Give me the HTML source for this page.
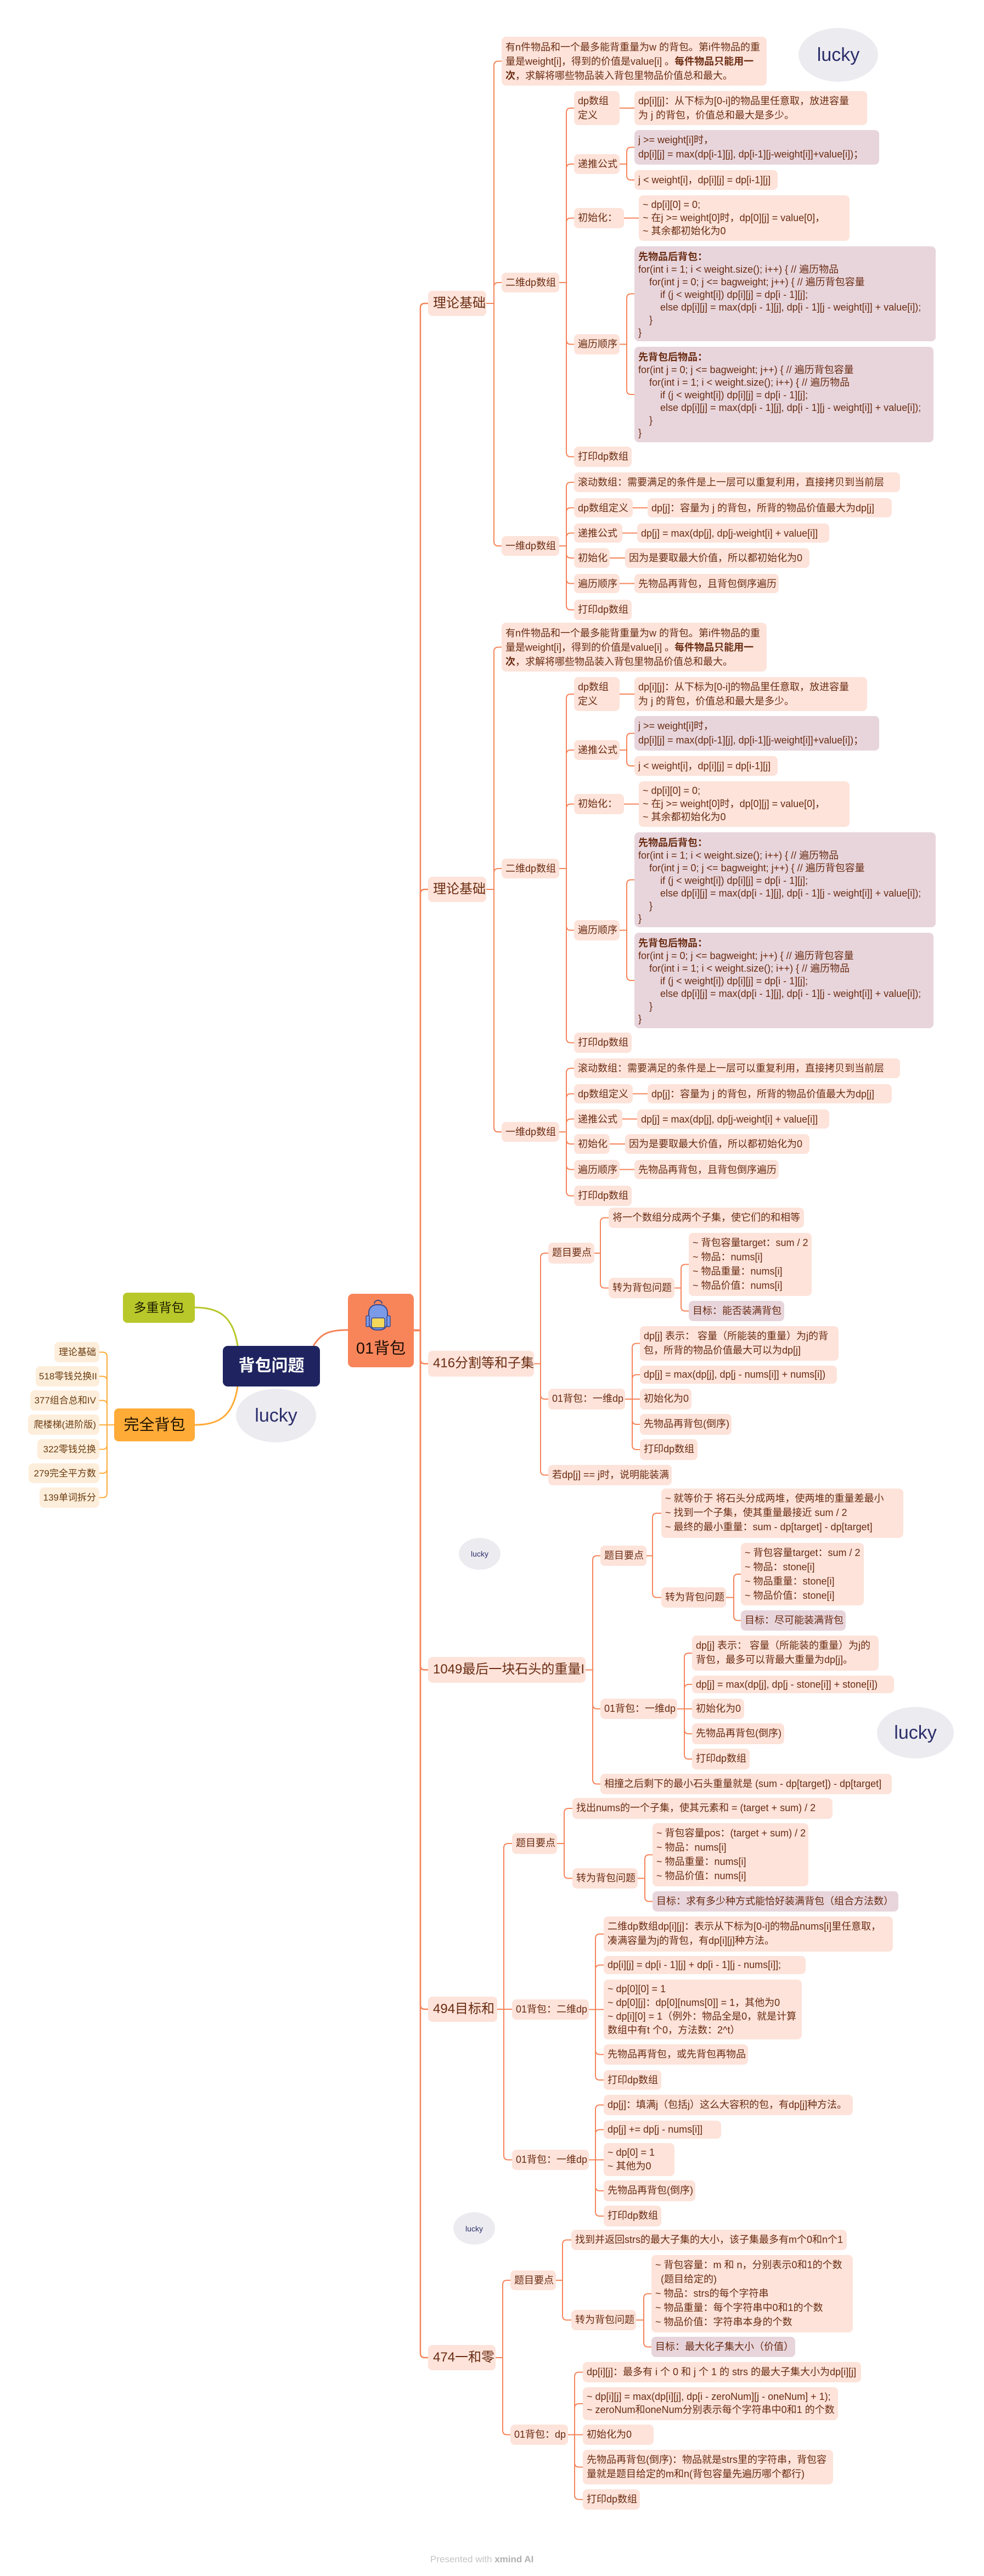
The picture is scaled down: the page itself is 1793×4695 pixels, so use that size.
<!DOCTYPE html>
<html><head><meta charset="utf-8">
<style>
html,body{margin:0;padding:0;background:#fff;}
body{width:1793px;height:4695px;position:relative;overflow:hidden;font-family:"Liberation Sans","Noto Sans CJK SC",sans-serif;}
.n{position:absolute;background:#fde3da;border-radius:8px;padding:5px 7px;box-sizing:border-box;font-size:18px;line-height:26px;color:#6a2c12;white-space:nowrap;overflow:hidden;}
.p{background:#e8d5dc;}
.big{font-size:24px;line-height:34px;padding:6px 9px;}
.code{line-height:23px;padding-top:8px;}
.sec{position:absolute;left:0;top:0;width:1793px;}
.lk{position:absolute;background:#ecebf0;border-radius:50%;color:#2b2e6a;display:flex;align-items:center;justify-content:center;}
.l{position:absolute;background:#fdeedb;border-radius:8px;font-size:17px;line-height:27px;padding:5px 6px;box-sizing:border-box;color:#6a3c10;white-space:nowrap;text-align:right;}
svg{position:absolute;left:0;top:0;}
</style></head><body>
<svg id="cv" width="1793" height="4695"></svg>

<!-- left side -->
<div style="position:absolute;left:224px;top:2356px;width:131px;height:55px;background:#b8c82a;border-radius:8px;font-size:23px;line-height:55px;text-align:center;color:#1d1d00;">多重背包</div>
<div style="position:absolute;left:208px;top:2567px;width:147px;height:60px;background:#ffab38;border-radius:8px;font-size:28px;line-height:60px;text-align:center;color:#1d1200;">完全背包</div>
<div style="position:absolute;left:406px;top:2453px;width:177px;height:74px;background:#1f2460;border-radius:9px;font-size:30px;font-weight:bold;line-height:74px;text-align:center;color:#fff;">背包问题</div>
<div id="k01" style="position:absolute;left:634px;top:2358px;width:120px;height:134px;background:#f8855a;border-radius:9px;">
<svg width="120" height="134" style="position:absolute;left:0;top:0">
<rect x="38" y="20" width="34" height="46" rx="14" fill="#7b9ae8" stroke="#3a4a8a" stroke-width="2"/>
<rect x="33" y="40" width="6" height="20" rx="2" fill="#7b9ae8" stroke="#3a4a8a" stroke-width="1.5"/>
<rect x="71" y="40" width="6" height="20" rx="2" fill="#7b9ae8" stroke="#3a4a8a" stroke-width="1.5"/>
<rect x="43" y="44" width="24" height="18" rx="3" fill="#f5d75a" stroke="#3a4a8a" stroke-width="1.5"/>
<path d="M48 18 a7 6 0 0 1 14 0" fill="none" stroke="#3a4a8a" stroke-width="2"/>
</svg>
<div style="position:absolute;left:0;top:80px;width:120px;text-align:center;font-size:29px;line-height:40px;color:#1a0d05;">01背包</div>
</div>
<div class="lk" style="left:430px;top:2531px;width:146px;height:98px;font-size:34px;">lucky</div>

<div class="l" id="L1" style="left:99px;top:2446px;width:82px;height:37px;">理论基础</div>
<div class="l" id="L2" style="left:65px;top:2490px;width:116px;height:37px;">518零钱兑换II</div>
<div class="l" id="L3" style="left:55px;top:2534px;width:126px;height:37px;">377组合总和IV</div>
<div class="l" id="L4" style="left:51px;top:2578px;width:130px;height:37px;">爬楼梯(进阶版)</div>
<div class="l" id="L5" style="left:68px;top:2623px;width:113px;height:37px;">322零钱兑换</div>
<div class="l" id="L6" style="left:52px;top:2667px;width:129px;height:36px;">279完全平方数</div>
<div class="l" id="L7" style="left:72px;top:2711px;width:109px;height:37px;">139单词拆分</div>

<div class="lk" style="left:1455px;top:51px;width:145px;height:98px;font-size:34px;">lucky</div>
<div class="lk" style="left:836px;top:2803px;width:76px;height:58px;font-size:14px;">lucky</div>
<div class="lk" style="left:1598px;top:3111px;width:140px;height:94px;font-size:34px;">lucky</div>
<div class="lk" style="left:826px;top:4032px;width:76px;height:59px;font-size:14px;">lucky</div>

<!-- Section 1 -->
<div class="sec" style="top:0">
<div class="n big" id="at" style="left:780px;top:530px;width:106px;height:46px;">理论基础</div>
<div class="n" id="ad" style="left:914px;top:67px;width:483px;height:89px;padding-top:6px;">有n件物品和一个最多能背重量为w 的背包。第i件物品的重<br>量是weight[i]，得到的价值是value[i] 。<b>每件物品只能用一</b><br><b>次</b>，求解将哪些物品装入背包里物品价值总和最大。</div>
<div class="n" id="ae" style="left:914px;top:497px;width:105px;height:36px;">二维dp数组</div>
<div class="n" id="ao" style="left:914px;top:977px;width:105px;height:36px;">一维dp数组</div>
<div class="n" id="ae1" style="left:1046px;top:166px;width:83px;height:62px;">dp数组<br>定义</div>
<div class="n" id="ae1c" style="left:1156px;top:166px;width:424px;height:62px;">dp[i][j]：从下标为[0-i]的物品里任意取，放进容量<br>为 j 的背包，价值总和最大是多少。</div>
<div class="n" id="ae2" style="left:1046px;top:281px;width:83px;height:36px;">递推公式</div>
<div class="n p" id="ae2a" style="left:1156px;top:237px;width:446px;height:63px;">j &gt;= weight[i]时，<br>dp[i][j] = max(dp[i-1][j], dp[i-1][j-weight[i]]+value[i])；</div>
<div class="n" id="ae2b" style="left:1156px;top:310px;width:261px;height:36px;">j &lt; weight[i]，dp[i][j] = dp[i-1][j]</div>
<div class="n" id="ae3" style="left:1046px;top:379px;width:91px;height:37px;">初始化：</div>
<div class="n" id="ae3c" style="left:1164px;top:356px;width:384px;height:83px;line-height:24px;">~ dp[i][0] = 0;<br>~ 在j &gt;= weight[0]时，dp[0][j] = value[0]，<br>~ 其余都初始化为0</div>
<div class="n" id="ae4" style="left:1046px;top:609px;width:83px;height:37px;">遍历顺序</div>
<div class="n p code" id="ae4a" style="left:1156px;top:449px;width:549px;height:173px;"><b>先物品后背包：</b><br>for(int i = 1; i &lt; weight.size(); i++) { // 遍历物品<br>&nbsp;&nbsp;&nbsp;&nbsp;for(int j = 0; j &lt;= bagweight; j++) { // 遍历背包容量<br>&nbsp;&nbsp;&nbsp;&nbsp;&nbsp;&nbsp;&nbsp;&nbsp;if (j &lt; weight[i]) dp[i][j] = dp[i - 1][j];<br>&nbsp;&nbsp;&nbsp;&nbsp;&nbsp;&nbsp;&nbsp;&nbsp;else dp[i][j] = max(dp[i - 1][j], dp[i - 1][j - weight[i]] + value[i]);<br>&nbsp;&nbsp;&nbsp;&nbsp;}<br>}</div>
<div class="n p code" id="ae4b" style="left:1156px;top:632px;width:545px;height:174px;"><b>先背包后物品：</b><br>for(int j = 0; j &lt;= bagweight; j++) { // 遍历背包容量<br>&nbsp;&nbsp;&nbsp;&nbsp;for(int i = 1; i &lt; weight.size(); i++) { // 遍历物品<br>&nbsp;&nbsp;&nbsp;&nbsp;&nbsp;&nbsp;&nbsp;&nbsp;if (j &lt; weight[i]) dp[i][j] = dp[i - 1][j];<br>&nbsp;&nbsp;&nbsp;&nbsp;&nbsp;&nbsp;&nbsp;&nbsp;else dp[i][j] = max(dp[i - 1][j], dp[i - 1][j - weight[i]] + value[i]);<br>&nbsp;&nbsp;&nbsp;&nbsp;}<br>}</div>
<div class="n" id="ae5" style="left:1046px;top:814px;width:105px;height:37px;">打印dp数组</div>
<div class="n" id="ao1" style="left:1046px;top:861px;width:594px;height:36px;">滚动数组：需要满足的条件是上一层可以重复利用，直接拷贝到当前层</div>
<div class="n" id="ao2" style="left:1046px;top:908px;width:107px;height:35px;">dp数组定义</div>
<div class="n" id="ao2c" style="left:1180px;top:908px;width:445px;height:35px;">dp[j]：容量为 j 的背包，所背的物品价值最大为dp[j]</div>
<div class="n" id="ao3" style="left:1046px;top:954px;width:88px;height:35px;">递推公式</div>
<div class="n" id="ao3c" style="left:1161px;top:954px;width:350px;height:35px;">dp[j] = max(dp[j], dp[j-weight[i] + value[i]]</div>
<div class="n" id="ao4" style="left:1046px;top:999px;width:65px;height:36px;">初始化</div>
<div class="n" id="ao4c" style="left:1139px;top:999px;width:336px;height:36px;">因为是要取最大价值，所以都初始化为0</div>
<div class="n" id="ao5" style="left:1046px;top:1046px;width:83px;height:35px;">遍历顺序</div>
<div class="n" id="ao5c" style="left:1156px;top:1046px;width:263px;height:35px;">先物品再背包，且背包倒序遍历</div>
<div class="n" id="ao6" style="left:1046px;top:1093px;width:105px;height:37px;">打印dp数组</div>
</div>

<!-- Section 2 -->
<div class="sec" style="top:1068px">
<div class="n big" id="bt" style="left:780px;top:530px;width:106px;height:46px;">理论基础</div>
<div class="n" id="bd" style="left:914px;top:67px;width:483px;height:89px;padding-top:6px;">有n件物品和一个最多能背重量为w 的背包。第i件物品的重<br>量是weight[i]，得到的价值是value[i] 。<b>每件物品只能用一</b><br><b>次</b>，求解将哪些物品装入背包里物品价值总和最大。</div>
<div class="n" id="be" style="left:914px;top:497px;width:105px;height:36px;">二维dp数组</div>
<div class="n" id="bo" style="left:914px;top:977px;width:105px;height:36px;">一维dp数组</div>
<div class="n" id="be1" style="left:1046px;top:166px;width:83px;height:62px;">dp数组<br>定义</div>
<div class="n" id="be1c" style="left:1156px;top:166px;width:424px;height:62px;">dp[i][j]：从下标为[0-i]的物品里任意取，放进容量<br>为 j 的背包，价值总和最大是多少。</div>
<div class="n" id="be2" style="left:1046px;top:281px;width:83px;height:36px;">递推公式</div>
<div class="n p" id="be2a" style="left:1156px;top:237px;width:446px;height:63px;">j &gt;= weight[i]时，<br>dp[i][j] = max(dp[i-1][j], dp[i-1][j-weight[i]]+value[i])；</div>
<div class="n" id="be2b" style="left:1156px;top:310px;width:261px;height:36px;">j &lt; weight[i]，dp[i][j] = dp[i-1][j]</div>
<div class="n" id="be3" style="left:1046px;top:379px;width:91px;height:37px;">初始化：</div>
<div class="n" id="be3c" style="left:1164px;top:356px;width:384px;height:83px;line-height:24px;">~ dp[i][0] = 0;<br>~ 在j &gt;= weight[0]时，dp[0][j] = value[0]，<br>~ 其余都初始化为0</div>
<div class="n" id="be4" style="left:1046px;top:609px;width:83px;height:37px;">遍历顺序</div>
<div class="n p code" id="be4a" style="left:1156px;top:449px;width:549px;height:173px;"><b>先物品后背包：</b><br>for(int i = 1; i &lt; weight.size(); i++) { // 遍历物品<br>&nbsp;&nbsp;&nbsp;&nbsp;for(int j = 0; j &lt;= bagweight; j++) { // 遍历背包容量<br>&nbsp;&nbsp;&nbsp;&nbsp;&nbsp;&nbsp;&nbsp;&nbsp;if (j &lt; weight[i]) dp[i][j] = dp[i - 1][j];<br>&nbsp;&nbsp;&nbsp;&nbsp;&nbsp;&nbsp;&nbsp;&nbsp;else dp[i][j] = max(dp[i - 1][j], dp[i - 1][j - weight[i]] + value[i]);<br>&nbsp;&nbsp;&nbsp;&nbsp;}<br>}</div>
<div class="n p code" id="be4b" style="left:1156px;top:632px;width:545px;height:174px;"><b>先背包后物品：</b><br>for(int j = 0; j &lt;= bagweight; j++) { // 遍历背包容量<br>&nbsp;&nbsp;&nbsp;&nbsp;for(int i = 1; i &lt; weight.size(); i++) { // 遍历物品<br>&nbsp;&nbsp;&nbsp;&nbsp;&nbsp;&nbsp;&nbsp;&nbsp;if (j &lt; weight[i]) dp[i][j] = dp[i - 1][j];<br>&nbsp;&nbsp;&nbsp;&nbsp;&nbsp;&nbsp;&nbsp;&nbsp;else dp[i][j] = max(dp[i - 1][j], dp[i - 1][j - weight[i]] + value[i]);<br>&nbsp;&nbsp;&nbsp;&nbsp;}<br>}</div>
<div class="n" id="be5" style="left:1046px;top:814px;width:105px;height:37px;">打印dp数组</div>
<div class="n" id="bo1" style="left:1046px;top:861px;width:594px;height:36px;">滚动数组：需要满足的条件是上一层可以重复利用，直接拷贝到当前层</div>
<div class="n" id="bo2" style="left:1046px;top:908px;width:107px;height:35px;">dp数组定义</div>
<div class="n" id="bo2c" style="left:1180px;top:908px;width:445px;height:35px;">dp[j]：容量为 j 的背包，所背的物品价值最大为dp[j]</div>
<div class="n" id="bo3" style="left:1046px;top:954px;width:88px;height:35px;">递推公式</div>
<div class="n" id="bo3c" style="left:1161px;top:954px;width:350px;height:35px;">dp[j] = max(dp[j], dp[j-weight[i] + value[i]]</div>
<div class="n" id="bo4" style="left:1046px;top:999px;width:65px;height:36px;">初始化</div>
<div class="n" id="bo4c" style="left:1139px;top:999px;width:336px;height:36px;">因为是要取最大价值，所以都初始化为0</div>
<div class="n" id="bo5" style="left:1046px;top:1046px;width:83px;height:35px;">遍历顺序</div>
<div class="n" id="bo5c" style="left:1156px;top:1046px;width:263px;height:35px;">先物品再背包，且背包倒序遍历</div>
<div class="n" id="bo6" style="left:1046px;top:1093px;width:105px;height:37px;">打印dp数组</div>
</div>

<!-- 416 -->
<div class="n big" id="c" style="left:780px;top:2462px;width:193px;height:47px;">416分割等和子集</div>
<div class="n" id="c1" style="left:999px;top:2265px;width:84px;height:38px;">题目要点</div>
<div class="n" id="c1a" style="left:1109px;top:2201px;width:356px;height:37px;">将一个数组分成两个子集，使它们的和相等</div>
<div class="n" id="c1b" style="left:1109px;top:2329px;width:120px;height:37px;">转为背包问题</div>
<div class="n" id="c1b1" style="left:1255px;top:2247px;width:224px;height:115px;line-height:26px;">~ 背包容量target：sum / 2<br>~ 物品：nums[i]<br>~ 物品重量：nums[i]<br>~ 物品价值：nums[i]</div>
<div class="n p" id="c1b2" style="left:1255px;top:2371px;width:174px;height:37px;">目标：能否装满背包</div>
<div class="n" id="c2" style="left:999px;top:2531px;width:140px;height:38px;">01背包：一维dp</div>
<div class="n" id="c2a" style="left:1166px;top:2417px;width:362px;height:63px;">dp[j] 表示： 容量（所能装的重量）为j的背<br>包，所背的物品价值最大可以为dp[j]</div>
<div class="n" id="c2b" style="left:1166px;top:2489px;width:359px;height:33px;line-height:23px;">dp[j] = max(dp[j], dp[j - nums[i]] + nums[i])</div>
<div class="n" id="c2c" style="left:1166px;top:2531px;width:94px;height:38px;">初始化为0</div>
<div class="n" id="c2d" style="left:1166px;top:2577px;width:167px;height:38px;">先物品再背包(倒序)</div>
<div class="n" id="c2e" style="left:1166px;top:2623px;width:105px;height:38px;">打印dp数组</div>
<div class="n" id="c3" style="left:999px;top:2670px;width:225px;height:37px;">若dp[j] == j时，说明能装满</div>

<!-- 1049 -->
<div class="n big" id="d" style="left:780px;top:3020px;width:287px;height:47px;">1049最后一块石头的重量II</div>
<div class="n" id="d1" style="left:1094px;top:2817px;width:84px;height:37px;">题目要点</div>
<div class="n" id="d1a" style="left:1205px;top:2713px;width:441px;height:90px;line-height:26px;">~ 就等价于 将石头分成两堆，使两堆的重量差最小<br>~ 找到一个子集，使其重量最接近 sum / 2<br>~ 最终的最小重量：sum - dp[target] - dp[target]</div>
<div class="n" id="d1b" style="left:1205px;top:2893px;width:118px;height:37px;">转为背包问题</div>
<div class="n" id="d1b1" style="left:1350px;top:2812px;width:224px;height:114px;">~ 背包容量target：sum / 2<br>~ 物品：stone[i]<br>~ 物品重量：stone[i]<br>~ 物品价值：stone[i]</div>
<div class="n p" id="d1b2" style="left:1350px;top:2935px;width:191px;height:37px;">目标：尽可能装满背包</div>
<div class="n" id="d2" style="left:1094px;top:3096px;width:140px;height:37px;">01背包：一维dp</div>
<div class="n" id="d2a" style="left:1261px;top:2981px;width:340px;height:64px;">dp[j] 表示： 容量（所能装的重量）为j的<br>背包，最多可以背最大重量为dp[j]。</div>
<div class="n" id="d2b" style="left:1261px;top:3054px;width:368px;height:32px;line-height:22px;">dp[j] = max(dp[j], dp[j - stone[i]] + stone[i])</div>
<div class="n" id="d2c" style="left:1261px;top:3096px;width:95px;height:37px;">初始化为0</div>
<div class="n" id="d2d" style="left:1261px;top:3141px;width:168px;height:38px;">先物品再背包(倒序)</div>
<div class="n" id="d2e" style="left:1261px;top:3187px;width:105px;height:38px;">打印dp数组</div>
<div class="n" id="d3" style="left:1094px;top:3233px;width:531px;height:37px;">相撞之后剩下的最小石头重量就是 (sum - dp[target]) - dp[target]</div>

<!-- 494 -->
<div class="n big" id="e" style="left:780px;top:3639px;width:126px;height:46px;">494目标和</div>
<div class="n" id="e1" style="left:933px;top:3341px;width:82px;height:38px;">题目要点</div>
<div class="n" id="e1a" style="left:1043px;top:3277px;width:474px;height:38px;">找出nums的一个子集，使其元素和 = (target + sum) / 2</div>
<div class="n" id="e1b" style="left:1043px;top:3405px;width:119px;height:37px;">转为背包问题</div>
<div class="n" id="e1b1" style="left:1189px;top:3323px;width:284px;height:115px;">~ 背包容量pos：(target + sum) / 2<br>~ 物品：nums[i]<br>~ 物品重量：nums[i]<br>~ 物品价值：nums[i]</div>
<div class="n p" id="e1b2" style="left:1189px;top:3447px;width:448px;height:37px;">目标：求有多少种方式能恰好装满背包（组合方法数）</div>
<div class="n" id="e2" style="left:933px;top:3644px;width:140px;height:37px;">01背包：二维dp</div>
<div class="n" id="e2a" style="left:1100px;top:3493px;width:527px;height:64px;">二维dp数组dp[i][j]：表示从下标为[0-i]的物品nums[i]里任意取，<br>凑满容量为j的背包，有dp[i][j]种方法。</div>
<div class="n" id="e2b" style="left:1100px;top:3565px;width:368px;height:33px;line-height:23px;">dp[i][j] = dp[i - 1][j] + dp[i - 1][j - nums[i]];</div>
<div class="n" id="e2c" style="left:1100px;top:3608px;width:361px;height:109px;line-height:25px;">~ dp[0][0] = 1<br>~ dp[0][j]：dp[0][nums[0]] = 1，其他为0<br>~ dp[i][0] = 1（例外：物品全是0，就是计算<br>数组中有t 个0，方法数：2^t）</div>
<div class="n" id="e2d" style="left:1100px;top:3726px;width:263px;height:37px;">先物品再背包，或先背包再物品</div>
<div class="n" id="e2e" style="left:1100px;top:3773px;width:105px;height:36px;">打印dp数组</div>
<div class="n" id="e3" style="left:933px;top:3918px;width:140px;height:37px;">01背包：一维dp</div>
<div class="n" id="e3a" style="left:1100px;top:3818px;width:454px;height:37px;">dp[j]：填满j（包括j）这么大容积的包，有dp[j]种方法。</div>
<div class="n" id="e3b" style="left:1100px;top:3865px;width:214px;height:33px;line-height:23px;">dp[j] += dp[j - nums[i]]</div>
<div class="n" id="e3c" style="left:1100px;top:3906px;width:129px;height:60px;line-height:25px;">~ dp[0] = 1<br>~ 其他为0</div>
<div class="n" id="e3d" style="left:1100px;top:3974px;width:167px;height:38px;">先物品再背包(倒序)</div>
<div class="n" id="e3e" style="left:1100px;top:4020px;width:105px;height:38px;">打印dp数组</div>

<!-- 474 -->
<div class="n big" id="f" style="left:780px;top:4274px;width:123px;height:46px;">474一和零</div>
<div class="n" id="f1" style="left:930px;top:4138px;width:83px;height:36px;">题目要点</div>
<div class="n" id="f1a" style="left:1041px;top:4064px;width:502px;height:37px;">找到并返回strs的最大子集的大小，该子集最多有m个0和n个1</div>
<div class="n" id="f1b" style="left:1041px;top:4210px;width:118px;height:37px;">转为背包问题</div>
<div class="n" id="f1b1" style="left:1187px;top:4110px;width:367px;height:141px;">~ 背包容量：m 和 n，分别表示0和1的个数<br>&nbsp;&nbsp;(题目给定的)<br>~ 物品：strs的每个字符串<br>~ 物品重量：每个字符串中0和1的个数<br>~ 物品价值：字符串本身的个数</div>
<div class="n p" id="f1b2" style="left:1187px;top:4259px;width:262px;height:37px;">目标：最大化子集大小（价值）</div>
<div class="n" id="f2" style="left:930px;top:4419px;width:105px;height:37px;">01背包：dp</div>
<div class="n" id="f2a" style="left:1062px;top:4305px;width:507px;height:37px;">dp[i][j]：最多有 i 个 0 和 j 个 1 的 strs 的最大子集大小为dp[i][j]</div>
<div class="n" id="f2b" style="left:1062px;top:4351px;width:465px;height:60px;line-height:24px;">~ dp[i][j] = max(dp[i][j], dp[i - zeroNum][j - oneNum] + 1);<br>~ zeroNum和oneNum分别表示每个字符串中0和1 的个数</div>
<div class="n" id="f2c" style="left:1062px;top:4419px;width:129px;height:37px;">初始化为0</div>
<div class="n" id="f2d" style="left:1062px;top:4465px;width:456px;height:63px;">先物品再背包(倒序)：物品就是strs里的字符串，背包容<br>量就是题目给定的m和n(背包容量先遍历哪个都行)</div>
<div class="n" id="f2e" style="left:1062px;top:4537px;width:104px;height:37px;">打印dp数组</div>

<div style="position:absolute;left:784px;top:4655px;font-size:17px;color:#c4c4c4;white-space:nowrap;">Presented with <b style="color:#b0b0b0">xmind AI</b></div>

<script>
(function(){
var svg=document.getElementById('cv'),NS='http://www.w3.org/2000/svg';
function R(id){var r=document.getElementById(id).getBoundingClientRect();return {x:r.left,y:r.top,w:r.width,h:r.height,cy:r.top+r.height/2};}
function path(d,c,w){var p=document.createElementNS(NS,'path');p.setAttribute('d',d);p.setAttribute('fill','none');p.setAttribute('stroke',c);p.setAttribute('stroke-width',w);svg.appendChild(p);}
function conn(pid,tx,kids,c,w,left){
 c=c||'#f5845a';w=w||2;var P=R(pid);
 kids.forEach(function(k){var K=R(k);
  if(left){var sx=P.x,ex=K.x+K.w;var t=tx==null?(sx+ex)/2:tx;
   var dy=K.cy-P.cy,d='M'+sx+' '+P.cy+' H'+t;
   if(Math.abs(dy)<2){d+=' H'+ex;}else{var s=dy>0?1:-1,r=Math.min(8,Math.abs(dy));d+=' V'+(K.cy-s*r)+' Q'+t+' '+K.cy+' '+(t-r)+' '+K.cy+' H'+ex;}
   path(d,c,w);return;}
  var sx=P.x+P.w,ex=K.x;var t=tx==null?(sx+ex)/2:tx;
  var dy=K.cy-P.cy,d='M'+sx+' '+P.cy+' H'+t;
  if(Math.abs(dy)<2){d+=' H'+ex;}else{var s=dy>0?1:-1,r=Math.min(8,Math.abs(dy));d+=' V'+(K.cy-s*r)+' Q'+t+' '+K.cy+' '+(t+r)+' '+K.cy+' H'+ex;}
  path(d,c,w);});
}
conn('k01',766,['at','bt','c','d','e','f'],'#f5845a',2.5);
['a','b'].forEach(function(p){
 conn(p+'t',900,[p+'d',p+'e',p+'o']);
 conn(p+'e',1032,[p+'e1',p+'e2',p+'e3',p+'e4',p+'e5']);
 conn(p+'e1',null,[p+'e1c']);
 conn(p+'e2',1142,[p+'e2a',p+'e2b']);
 conn(p+'e3',null,[p+'e3c']);
 conn(p+'e4',1142,[p+'e4a',p+'e4b']);
 conn(p+'o',1032,[p+'o1',p+'o2',p+'o3',p+'o4',p+'o5',p+'o6']);
 conn(p+'o2',null,[p+'o2c']);conn(p+'o3',null,[p+'o3c']);conn(p+'o4',null,[p+'o4c']);conn(p+'o5',null,[p+'o5c']);
});
conn('c',985,['c1','c2','c3']);conn('c1',1094,['c1a','c1b']);conn('c1b',1241,['c1b1','c1b2']);conn('c2',1152,['c2a','c2b','c2c','c2d','c2e']);
conn('d',1080,['d1','d2','d3']);conn('d1',1189,['d1a','d1b']);conn('d1b',1337,['d1b1','d1b2']);conn('d2',1247,['d2a','d2b','d2c','d2d','d2e']);
conn('e',918,['e1','e2','e3']);conn('e1',1028,['e1a','e1b']);conn('e1b',1175,['e1b1','e1b2']);conn('e2',1085,['e2a','e2b','e2c','e2d','e2e']);conn('e3',1085,['e3a','e3b','e3c','e3d','e3e']);
conn('f',916,['f1','f2']);conn('f1',1025,['f1a','f1b']);conn('f1b',1173,['f1b1','f1b2']);conn('f2',1047,['f2a','f2b','f2c','f2d','f2e']);
// left list
var C=R('L1');
['L1','L2','L3','L4','L5','L6','L7'].forEach(function(k){var K=R(k);var cy=2597,dy=K.cy-cy;var d='M208 '+cy+' H195';
 if(Math.abs(dy)<2)d+=' H181';else{var s=dy>0?1:-1,r=Math.min(8,Math.abs(dy));d+=' V'+(K.cy-s*r)+' Q195 '+K.cy+' 187 '+K.cy+' H181';}
 path(d,'#ffab38',2);});
path('M355 2383 C400 2383 425 2400 433 2453','#b8c82a',3);
path('M433 2527 C425 2580 400 2597 355 2597','#ffab38',3);
path('M571 2453 C585 2430 600 2424 634 2424','#f5845a',3);
path('M754 2424 H766','#f5845a',2.5);
})();
</script>
</body></html>
